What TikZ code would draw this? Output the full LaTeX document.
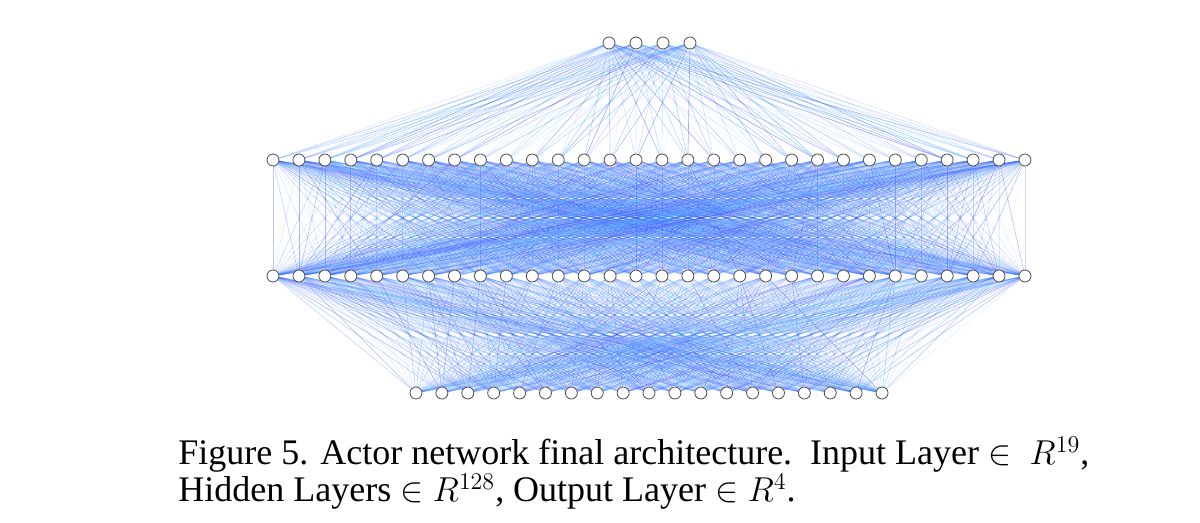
\documentclass[tikz,border=0pt]{standalone}
\usepackage{fontspec}
\setmainfont{Liberation Serif}
\usetikzlibrary{backgrounds}
\tikzset{neuron/.style={circle,draw=black!70,fill=white,line width=0.4pt,inner sep=0pt,minimum size=6pt},
edge/.style={line width=0.3pt}}
\begin{document}
\begin{tikzpicture}[x=0.5pt,y=-0.5pt]
\useasboundingbox (0,0) rectangle (1200,523);
\foreach \i in {1,...,4} \node[neuron] (a\i) at ({609+(\i-1)*27},43) {};
\foreach \i in {1,...,30} {\node[neuron] (b\i) at ({273+(\i-1)*25.93},160) {};
  \node[neuron] (c\i) at ({273+(\i-1)*25.93},276) {};}
\foreach \i in {1,...,19} \node[neuron] (d\i) at ({416+(\i-1)*25.89},393) {};
\pgfmathsetseed{7}
\begin{pgfonlayer}{background}
\foreach \i in {1,...,4} \foreach \j in {1,...,30} {
  \pgfmathsetmacro\p{int(40+rnd*60)}\pgfmathsetmacro\o{0.08+0.4*rnd}
  \draw[edge,draw=blue!\p!cyan!80!white,opacity=\o] (a\i) -- (b\j);}
\foreach \i in {1,...,30} \foreach \j in {1,...,30} {
  \pgfmathsetmacro\p{int(40+rnd*60)}\pgfmathsetmacro\o{0.08+0.4*rnd}
  \draw[edge,draw=blue!\p!cyan!80!white,opacity=\o] (b\i) -- (c\j);}
\foreach \i in {1,...,30} \foreach \j in {1,...,19} {
  \pgfmathsetmacro\p{int(40+rnd*60)}\pgfmathsetmacro\o{0.08+0.4*rnd}
  \draw[edge,draw=blue!\p!cyan!80!white,opacity=\o] (c\i) -- (d\j);}
\end{pgfonlayer}
\node[anchor=base west,inner sep=0pt,font=\fontsize{18}{21}\selectfont] (cap1) at (178,465) {Figure 5. Actor network final architecture.\ \ Input Layer $\in\ R^{19}$,};
\node[anchor=base west,inner sep=0pt,font=\fontsize{18}{21}\selectfont] (cap2) at (178,502) {Hidden Layers $\in R^{128}$, Output Layer $\in R^{4}$.};
\end{tikzpicture}
\end{document}
